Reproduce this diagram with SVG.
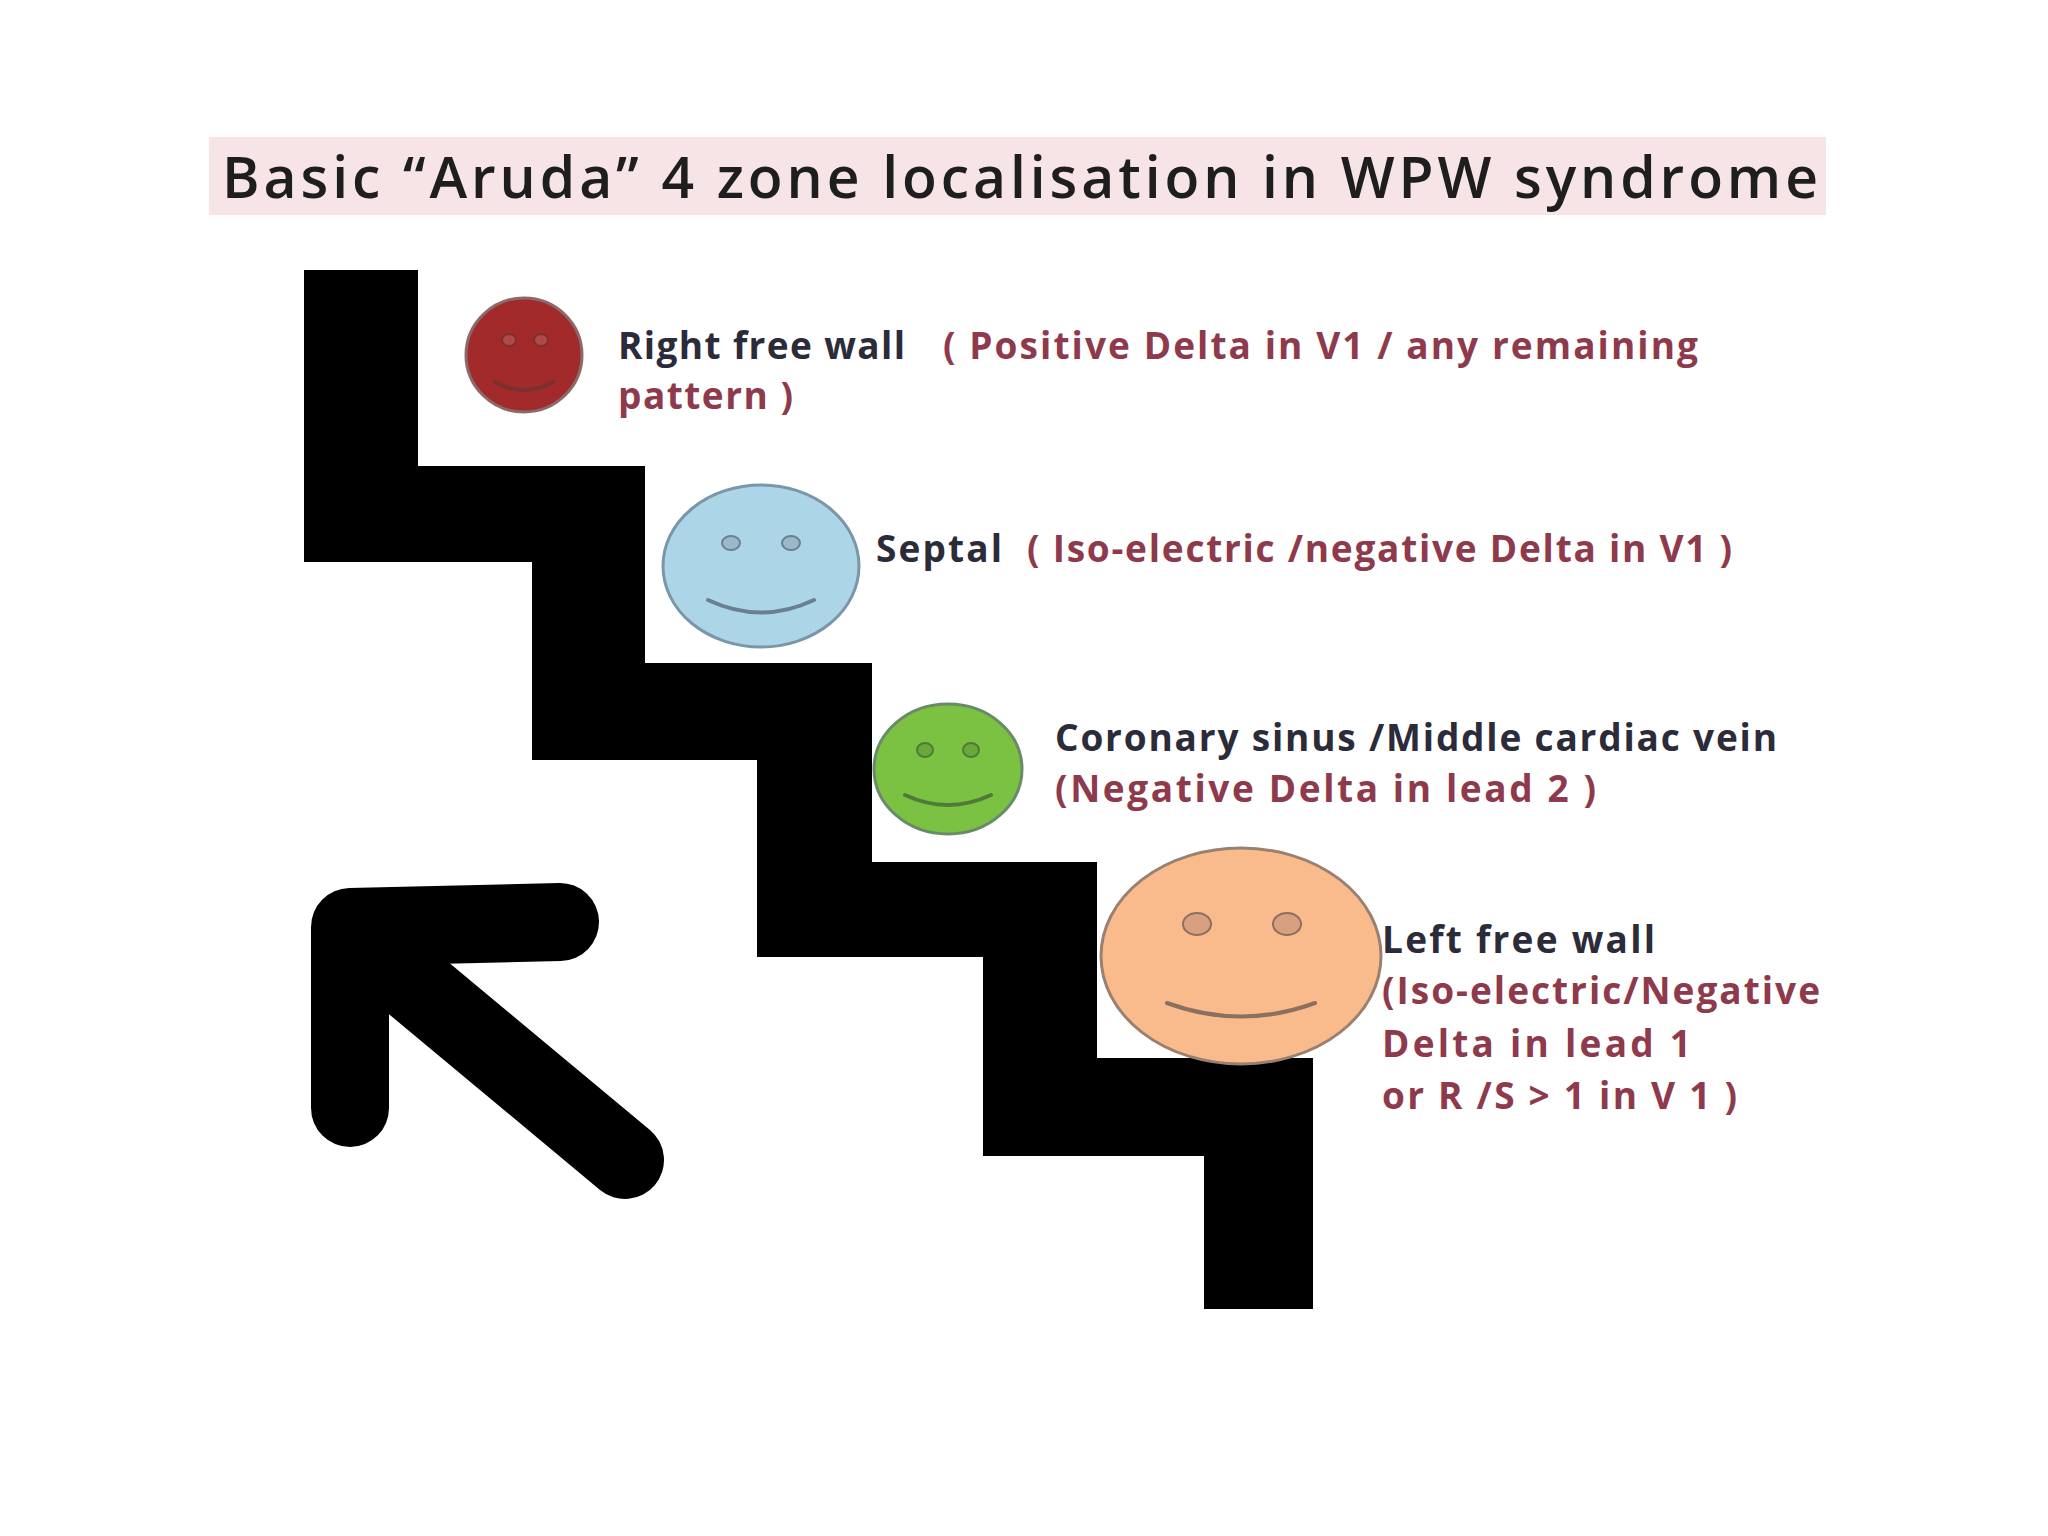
<svg xmlns="http://www.w3.org/2000/svg" width="2048" height="1536" viewBox="0 0 2048 1536">
<style>
.t{font-family:"Open Sans","Liberation Sans",sans-serif;font-weight:bold;font-size:37px}
.d{fill:#2b2b3a}.r{fill:#8e3a4c}
.eye{stroke-width:2}
.sm{fill:none;stroke-width:4;stroke-linecap:round}
</style>
<rect width="2048" height="1536" fill="#ffffff"/>
<g id="title">
<rect x="209" y="137" width="1617" height="78" fill="#f7e4e6"/>
<text x="222" y="198" font-family="Open Sans,Liberation Sans,sans-serif" font-weight="600" font-size="57" fill="#1e1e1e" textLength="1596" lengthAdjust="spacing">Basic “Aruda” 4  zone localisation  in WPW syndrome</text>
</g>
<g id="stairs">
<polygon fill="#000" points="304,270 304,562 532,562 532,760 757,760 757,957 983,957 983,1156 1204,1156 1204,1309 1313,1309 1313,1058 1097,1058 1097,862 872,862 872,663 645,663 645,466 418,466 418,270"/>
</g>
<g id="arrow" fill="none" stroke="#000" stroke-width="78" stroke-linecap="round" stroke-linejoin="round">
<polyline points="350,1108 350,927 560,922"/>
<line x1="356" y1="936" x2="625" y2="1160"/>
</g>
<g id="face-red">
<ellipse cx="524" cy="355" rx="58" ry="57" fill="#a32a2a" stroke="#8a6a6a" stroke-width="3"/>
<ellipse cx="509" cy="340" rx="7" ry="6" fill="#b04a4a" stroke="#7a3030" class="eye"/>
<ellipse cx="541" cy="340" rx="7" ry="6" fill="#b04a4a" stroke="#7a3030" class="eye"/>
<path d="M495,382 Q524,398 553,382" class="sm" stroke="#7a3030"/>
</g>
<g id="face-blue">
<ellipse cx="761" cy="566" rx="98" ry="81" fill="#add5e8" stroke="#7b96a8" stroke-width="3"/>
<ellipse cx="731" cy="543" rx="9" ry="7" fill="#9ab8c8" stroke="#6a8090" class="eye"/>
<ellipse cx="791" cy="543" rx="9" ry="7" fill="#9ab8c8" stroke="#6a8090" class="eye"/>
<path d="M708,600 Q761,625 814,600" class="sm" stroke="#6a8090"/>
</g>
<g id="face-green">
<ellipse cx="948" cy="769" rx="74" ry="65" fill="#7cc242" stroke="#6a8a6a" stroke-width="3"/>
<ellipse cx="925" cy="750" rx="8" ry="7" fill="#6aa83a" stroke="#4f7a3a" class="eye"/>
<ellipse cx="971" cy="750" rx="8" ry="7" fill="#6aa83a" stroke="#4f7a3a" class="eye"/>
<path d="M905,795 Q948,815 991,795" class="sm" stroke="#4f7a3a"/>
</g>
<g id="face-orange">
<ellipse cx="1241" cy="956" rx="140" ry="108" fill="#f9bb8c" stroke="#9a8070" stroke-width="3"/>
<ellipse cx="1197" cy="924" rx="14" ry="11" fill="#d8a080" stroke="#8a7060" class="eye"/>
<ellipse cx="1287" cy="924" rx="14" ry="11" fill="#d8a080" stroke="#8a7060" class="eye"/>
<path d="M1167,1003 Q1241,1030 1315,1003" class="sm" stroke="#8a7060"/>
</g>
<g id="labels" class="t">
<text x="618" y="359" class="d" textLength="287" lengthAdjust="spacing">Right free wall</text>
<text x="943" y="359" class="r" textLength="755" lengthAdjust="spacing">( Positive  Delta in V1 / any remaining</text>
<text x="618" y="409" class="r" textLength="175" lengthAdjust="spacing">pattern )</text>
<text x="876" y="562" class="d" textLength="126" lengthAdjust="spacing">Septal</text>
<text x="1027" y="562" class="r" textLength="705" lengthAdjust="spacing">( Iso-electric /negative Delta in V1 )</text>
<text x="1055" y="751" class="d" textLength="722" lengthAdjust="spacing">Coronary sinus /Middle cardiac vein</text>
<text x="1055" y="802" class="r" textLength="541" lengthAdjust="spacing">(Negative  Delta in  lead 2 )</text>
<text x="1382" y="953" class="d" textLength="273" lengthAdjust="spacing">Left  free wall</text>
<text x="1382" y="1004" class="r" textLength="438" lengthAdjust="spacing">(Iso-electric/Negative</text>
<text x="1382" y="1057" class="r" textLength="309" lengthAdjust="spacing">Delta in  lead  1</text>
<text x="1382" y="1109" class="r" textLength="355" lengthAdjust="spacing">or R /S &gt; 1 in V 1 )</text>
</g>
</svg>
